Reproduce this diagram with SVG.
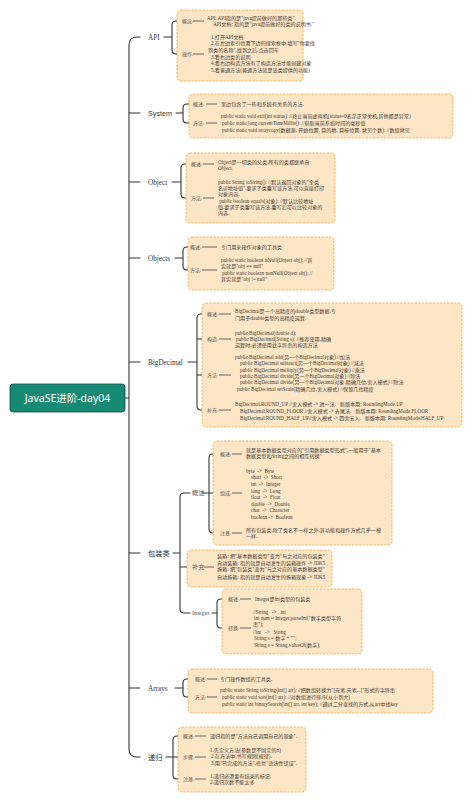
<svg xmlns="http://www.w3.org/2000/svg" width="474" height="801" viewBox="0 0 474 801">
<style>
.ln{fill:none;stroke:#333;stroke-width:1.1;stroke-linecap:round}
.sl{fill:none;stroke:#444;stroke-width:0.8}
.box{fill:#fde6c6;stroke:#f2a43a;stroke-width:0.8;stroke-dasharray:2.2 1.4}
.t{font-family:"Liberation Serif","Noto Sans CJK SC",serif;font-size:5.1px;fill:#3e3a36;white-space:pre}
.lb{font-family:"Liberation Serif","Noto Sans CJK SC",serif;font-size:5px;fill:#555}
.mt{font-family:"Liberation Serif","Noto Sans CJK SC",serif;font-size:7.2px;fill:#333}
.st{font-family:"Liberation Serif","Noto Sans CJK SC",serif;font-size:6.2px;fill:#555}
</style>
<rect width="474" height="801" fill="#fff"/>
<g id="connectors">
<path class="ln" d="M125,398 H129 M137,37 Q129,37 129,45 V749 Q129,757 137,757 H140 M137,37 H140 M129,113 H140 M129,182 H140 M129,258 H140 M129,362 H140 M129,553 H140 M129,688 H140"/>
<path class="ln" d="M164,37 H172 M181,21 H176 Q172,21 172,25 V50 Q172,54 176,54 H181"/>
<path class="ln" d="M176,113 H183 M191,104 H187 Q183,104 183,108 V119 Q183,123 187,123 H191"/>
<path class="ln" d="M172,182 H181 M189,164 H185 Q181,164 181,168 V194 Q181,198 185,198 H189"/>
<path class="ln" d="M175,258 H183 M188,247 H187 Q183,247 183,251 V266 Q183,270 187,270 H188"/>
<path class="ln" d="M188,362 H197 M205,314 H201 Q197,314 197,318 V406 Q197,410 201,410 H205 M197,339 H205 M197,375 H205"/>
<path class="ln" d="M173,553 H180 M190,493 H184 Q180,493 180,497 V609 Q180,613 184,613 H190 M180,567 H190"/>
<path class="ln" d="M203,493 H209 M217,454 H213 Q209,454 209,458 V529 Q209,533 213,533 H217 M209,493 H217"/>
<path class="ln" d="M212,613 H217 M226,599 H221 Q217,599 217,603 V624 Q217,628 221,628 H226"/>
<path class="ln" d="M175,688 H183 M193,679 H187 Q183,679 183,683 V693 Q183,697 187,697 H193"/>
<path class="ln" d="M166,757 H173 M181,736 H177 Q173,736 173,740 V775 Q173,779 177,779 H181 M173,757 H181"/>
</g>
<g id="root">
<rect x="10" y="384" width="115" height="28" rx="3" fill="#17897260" style="fill:#178a73" stroke="#0e4f43" stroke-width="0.8"/>
<text x="67.5" y="402" text-anchor="middle" font-family="'Noto Sans','Noto Sans CJK SC',sans-serif" font-size="10.5" fill="#fff">JavaSE进阶-day04</text>
</g>
<g id="api">
<text class="mt" x="148" y="39.6">API</text>
<rect class="box" x="177" y="10" width="126" height="71" rx="4"/>
<text class="lb" x="182" y="22.8">概念:</text><path class="sl" d="M193,21 H204"/>
<text class="lb" x="182" y="55.8">操作:</text><path class="sl" d="M193,54 H204"/>
<text class="t" x="207" y="19.8">API: API指的是"java提前做好的那些类".</text>
<text class="t" x="213" y="25.8">API文档: 指的是"java提前做好的类的说明书."</text>
<text class="t" x="211" y="38.8">1.打开API文档</text>
<text class="t" x="211" y="45.4">2.在左边索引位置下边的搜索框中,填写"你要找</text>
<text class="t" x="208" y="52">到类的名称",找到之后,点击回车</text>
<text class="t" x="211" y="58.6">3.看右边类的说明</text>
<text class="t" x="211" y="65.2">4.看右边构造方法有了构造方法才能创建对象</text>
<text class="t" x="211" y="71.8">5.看普通方法(普通方法就是该类提供的功能)</text>
</g>
<g id="system">
<text class="mt" x="148" y="115.6" style="font-family:'Liberation Sans',sans-serif">System</text>
<rect class="box" x="189" y="94" width="264" height="44" rx="4"/>
<text class="lb" x="193" y="105.8">概述:</text><path class="sl" d="M206,104 H217"/>
<text class="lb" x="193" y="124.8">方法:</text><path class="sl" d="M206,123 H217"/>
<text class="t" x="221" y="105.8">里边包含了一些和系统有关系的方法.</text>
<text class="t" x="221" y="117.6">public static void exit(int status): //终止当前虚拟机(status=0表示正常关机,其他都是异常)</text>
<text class="t" x="222" y="124.6">public static long currentTimeMillis(): //获取当前系统时间的毫秒值</text>
<text class="t" x="222" y="132.2">public static void arraycopy(数据源, 开始位置, 目的地, 目标位置, 拷贝个数): //数组拷贝</text>
</g>
<g id="object">
<text class="mt" x="148" y="184.6">Object</text>
<rect class="box" x="186" y="153" width="149" height="70" rx="4"/>
<text class="lb" x="191" y="165.8">概述:</text><path class="sl" d="M203,164 H214"/>
<text class="lb" x="191" y="199.8">方法:</text><path class="sl" d="M203,198 H214"/>
<text class="t" x="218" y="163.5">Object是一切类的父类,所有的类都继承自</text>
<text class="t" x="218" y="169.5">Object.</text>
<text class="t" x="218" y="183.8">public String toString(): //默认返回对象的"全类</text>
<text class="t" x="218" y="189.8">名@地址值",要求子类重写该方法,可以直接打印</text>
<text class="t" x="218" y="195.8">对象内容.</text>
<text class="t" x="218" y="202.8"> public boolean equals(对象): //默认比较地址</text>
<text class="t" x="218" y="208.8">值,要求子类重写该方法,重写后可以比较对象的</text>
<text class="t" x="218" y="214.8">内容.</text>
</g>
<g id="objects">
<text class="mt" x="148" y="260.6">Objects</text>
<rect class="box" x="188" y="237" width="146" height="53" rx="4"/>
<text class="lb" x="190" y="248.8">概述:</text><path class="sl" d="M202,247 H217"/>
<text class="lb" x="190" y="271.8">方法:</text><path class="sl" d="M202,270 H217"/>
<text class="t" x="221" y="248.8">专门用来操作对象的工具类</text>
<text class="t" x="221" y="261.8">public static boolean isNull(Object obj); //其</text>
<text class="t" x="221" y="267.8">实就是"obj == null"</text>
<text class="t" x="222" y="274.8">public static boolean nonNull(Object obj); //</text>
<text class="t" x="221" y="280.8">其实就是"obj != null"</text>
</g>
<g id="bigdecimal">
<text class="mt" x="148" y="364.6">BigDecimal</text>
<rect class="box" x="202" y="303" width="260" height="124" rx="4"/>
<text class="lb" x="207" y="315.8">概述:</text><path class="sl" d="M219,314 H231"/>
<text class="lb" x="207" y="340.8">构造:</text><path class="sl" d="M219,339 H231"/>
<text class="lb" x="207" y="376.8">方法:</text><path class="sl" d="M219,375 H231"/>
<text class="lb" x="207" y="411.8">补充:</text><path class="sl" d="M219,410 H231"/>
<text class="t" x="235" y="312.6">BigDecimal是一个高精度的double类型数据,专</text>
<text class="t" x="235" y="319.6">门用于double类型的高精度运算.</text>
<text class="t" x="235" y="334.8">public BigDecimal(double d);</text>
<text class="t" x="236" y="340.6">public BigDecimal(String s); //推荐使用,精确</text>
<text class="t" x="235" y="346.6">运算时,必须使用此字符串的构造方法</text>
<text class="t" x="235" y="358.8">public BigDecimal add(另一个BigDecimal对象) //加法</text>
<text class="t" x="240" y="365.2">public BigDecimal subtract(另一个BigDecimal对象) //减法</text>
<text class="t" x="240" y="371.6">public BigDecimal multiply(另一个BigDecimal对象) //乘法</text>
<text class="t" x="240" y="378">public BigDecimal divide(另一个BigDecimal对象) //除法</text>
<text class="t" x="240" y="384.4">public BigDecimal divide(另一个BigDecimal对象,精确几位,舍入模式) //除法</text>
<text class="t" x="237" y="390.8">public BigDecimal setScale(精确几位,舍入模式) //保留几位精度</text>
<text class="t" x="235" y="405.8">BigDecimal.ROUND_UP //舍入模式 -&gt; 进一法.   新版本用: RoundingMode.UP</text>
<text class="t" x="240" y="412.6">BigDecimal.ROUND_FLOOR //舍入模式 -&gt; 去尾法.   新版本用: RoundingMode.FLOOR</text>
<text class="t" x="240" y="419.6">BigDecimal.ROUND_HALF_UP//舍入模式 -&gt; 四舍五入.   新版本用: RoundingMode.HALF_UP</text>
</g>
<g id="wrapper">
<text class="mt" x="148" y="555.6">包装类</text>
</g>
<g id="wrapper-overview">
<text class="st" x="192" y="495">概述</text>
<rect class="box" x="213" y="441" width="179" height="104" rx="4"/>
<text class="lb" x="220" y="455.8">概述:</text><path class="sl" d="M232,454 H242"/>
<text class="lb" x="220" y="494.8">组成:</text><path class="sl" d="M232,493 H242"/>
<text class="lb" x="220" y="534.8">注意:</text><path class="sl" d="M232,533 H242"/>
<text class="t" x="246" y="451.8">就是基本数据类型对应的"引用数据类型形式",一般用于"基本</text>
<text class="t" x="246" y="457.8">数据类型和String之间的相互转换"</text>
<text class="t" x="246" y="472.8">byte  -&gt;  Byte</text>
<text class="t" x="251" y="479.4">short  -&gt;  Short</text>
<text class="t" x="251" y="486">int  -&gt;  Integer</text>
<text class="t" x="251" y="492.6">long  -&gt;  Long</text>
<text class="t" x="251" y="499.2">float  -&gt;  Float</text>
<text class="t" x="251" y="505.8">double  -&gt;  Double</text>
<text class="t" x="251" y="512.4">char  -&gt;  Character</text>
<text class="t" x="251" y="519">boolean -&gt;  Boolean</text>
<text class="t" x="246" y="531.8">所有包装类,除了类名不一样之外,其功能和操作方式几乎一模</text>
<text class="t" x="246" y="537.8">一样.</text>
</g>
<g id="wrapper-extra">
<rect class="box" x="187" y="550" width="145" height="37" rx="4"/>
<text class="st" x="192" y="569">补充</text><path class="sl" d="M204,567 H214"/>
<text class="t" x="217" y="557.8">装箱: 把"基本数据类型"变为"与之对应的包装类"</text>
<text class="t" x="217" y="564.6">自动装箱: 指的就是自动发生的装箱操作 -&gt; JDK5</text>
<text class="t" x="217" y="571.2">拆箱: 把"包装类"变为"与之对应的基本数据类型"</text>
<text class="t" x="217" y="578.6">自动拆箱: 指的就是自动发生的拆箱现象 -&gt; JDK5</text>
</g>
<g id="integer">
<text class="st" x="192" y="615.2">Integer</text>
<rect class="box" x="222" y="589" width="140" height="65" rx="4"/>
<text class="lb" x="228" y="600.8">概述:</text><path class="sl" d="M240,599 H251"/>
<text class="lb" x="228" y="629.8">转换:</text><path class="sl" d="M240,628 H251"/>
<text class="t" x="255" y="600.8">Integer是int类型的包装类</text>
<text class="t" x="253" y="613.8">//String   -&gt;   int</text>
<text class="t" x="254" y="619.8">int num = Integer.parseInt("数字类型字符</text>
<text class="t" x="253" y="625.8">串");</text>
<text class="t" x="253" y="633.8">//int   -&gt;   String</text>
<text class="t" x="254" y="639.8">String s = 数字 + "";</text>
<text class="t" x="254" y="646.8">String s = String.valueOf(数字);</text>
</g>
<g id="arrays">
<text class="mt" x="148" y="690.6">Arrays</text>
<rect class="box" x="188" y="669" width="245" height="44" rx="4"/>
<text class="lb" x="195" y="680.8">概述:</text><path class="sl" d="M207,679 H217"/>
<text class="lb" x="195" y="698.8">方法:</text><path class="sl" d="M207,697 H217"/>
<text class="t" x="220" y="680.8">专门操作数组的工具类.</text>
<text class="t" x="220" y="691.8">public static String toString(int[] arr); //把数组转换为"[元素,元素...]"形式的字符串</text>
<text class="t" x="222" y="698.8">public static void sort(int[] arr); //对数组进行排序(从小到大)</text>
<text class="t" x="222" y="705.8">public static int binarySearch(int[] arr, int key); //通过二分查找的方式,从arr中找key</text>
</g>
<g id="recursion">
<text class="mt" x="148" y="759.6">递归</text>
<rect class="box" x="178" y="727" width="128" height="65" rx="4"/>
<text class="lb" x="183" y="737.8">概述:</text><path class="sl" d="M195,736 H206"/>
<text class="lb" x="183" y="758.8">步骤:</text><path class="sl" d="M195,757 H206"/>
<text class="lb" x="183" y="780.8">注意:</text><path class="sl" d="M195,779 H206"/>
<text class="t" x="210" y="737.8">递归指的是"方法自己调用自己的现象".</text>
<text class="t" x="210" y="751.8">1.先定义方法(参数是不固定的n)</text>
<text class="t" x="211" y="758.4">2.在方法中,书写规则(规律).</text>
<text class="t" x="211" y="765">3.用"已完成的方法",修复"语法性错误".</text>
<text class="t" x="210" y="777.8">1.递归必须要有结束的标记.</text>
<text class="t" x="210" y="784.4">2.递归次数不能太多</text>
</g>
</svg>
